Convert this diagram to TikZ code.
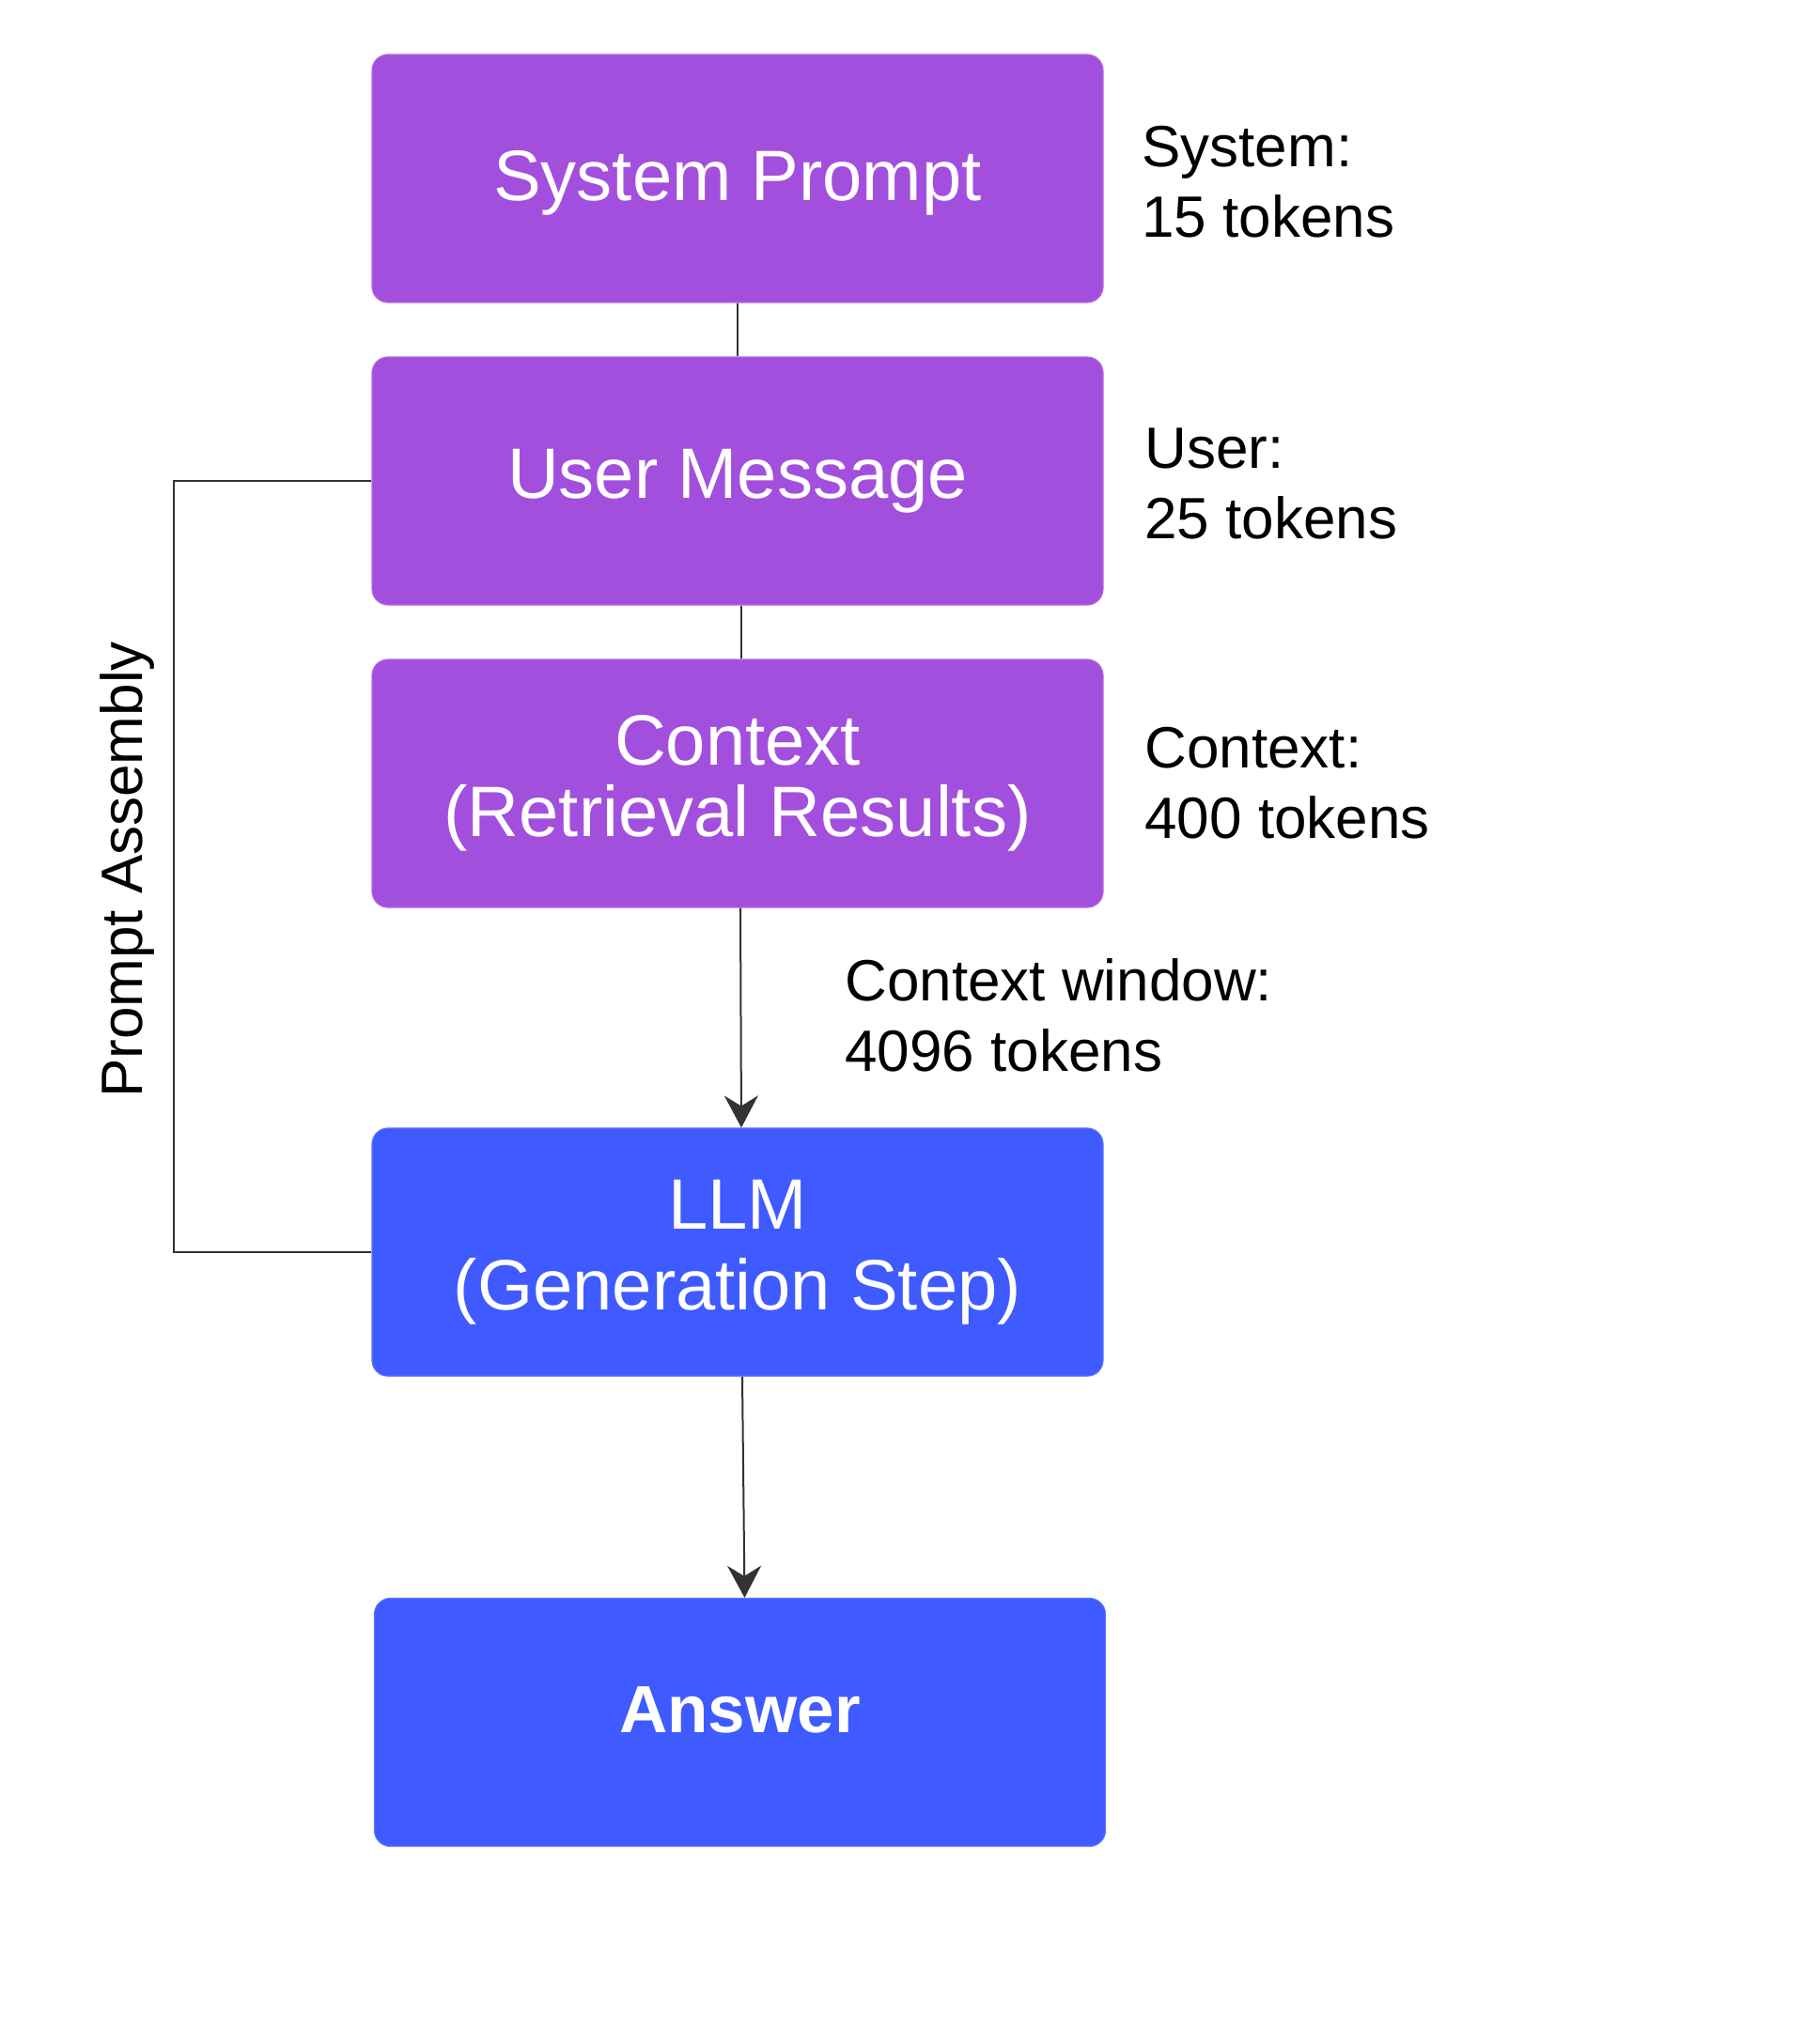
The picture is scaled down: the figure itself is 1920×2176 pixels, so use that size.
\documentclass[tikz,border=0pt]{standalone}
\usepackage{fontspec}
\setmainfont{Liberation Sans}
\usetikzlibrary{arrows.meta}
\definecolor{boxpurple}{HTML}{A34FDD}
\definecolor{boxblue}{HTML}{3F5AFE}
\definecolor{linegray}{HTML}{333333}
\tikzset{
  stagebox/.style={rectangle, rounded corners=8.5pt, minimum width=389pt, minimum height=132pt,
    inner sep=0pt, text=white, align=center, font=\fontsize{38}{38}\selectfont},
  purplebox/.style={stagebox, fill=boxpurple, draw=boxpurple!85!white, line width=0.6pt},
  bluebox/.style={stagebox, fill=boxblue, draw=boxblue!85!white, line width=0.6pt},
  sidelabel/.style={anchor=north west, inner sep=0pt, align=left, font=\fontsize{31}{37.5}\selectfont},
  conn/.style={draw=linegray, line width=1pt},
  arrowconn/.style={conn, -{Stealth[length=17pt,width=18pt]}},
}
\begin{document}
\begin{tikzpicture}[x=0.5pt,y=-0.5pt]
\useasboundingbox (0,0) rectangle (1920,2176);

\node[purplebox, text depth=3pt] (sys) at (785,190) {System Prompt};
\node[purplebox] (user) at (785,512) {User Message};
\node[purplebox] (ctx) at (785,834) {Context\\(Retrieval Results)};
\node[bluebox, font=\fontsize{38}{43}\selectfont] (llm) at (785,1333) {LLM\\(Generation Step)};
\node[bluebox, font=\fontsize{35.5}{35.5}\selectfont\bfseries, text depth=13pt] (ans) at (787.5,1833.5) {Answer};

\node[sidelabel] (syslab) at (1215,134) {System:\\15 tokens};
\node[sidelabel] (userlab) at (1218,455) {User:\\25 tokens};
\node[sidelabel] (ctxlab) at (1218,774) {Context:\\400 tokens};
\node[sidelabel] (winlab) at (899,1020) {Context window:\\4096 tokens};

\node[rotate=90, anchor=base, inner sep=0pt, font=\fontsize{31}{37.5}\selectfont] (assembly) at (151,926) {Prompt Assembly};

\draw[conn] (sys.south) -- (user.north);
\draw[conn] ([xshift=2pt]user.south) -- ([xshift=2pt]ctx.south |- ctx.north);
\draw[arrowconn] ([xshift=1.5pt]ctx.south) -- ([xshift=2pt]llm.north);
\draw[arrowconn] ([xshift=2.5pt]llm.south) -- ([xshift=2.5pt]ans.north);

\coordinate (bk) at (185,0);
\draw[conn] (user.west) -- (user.west -| bk) -- (llm.west -| bk) -- (llm.west);
\end{tikzpicture}
\end{document}
